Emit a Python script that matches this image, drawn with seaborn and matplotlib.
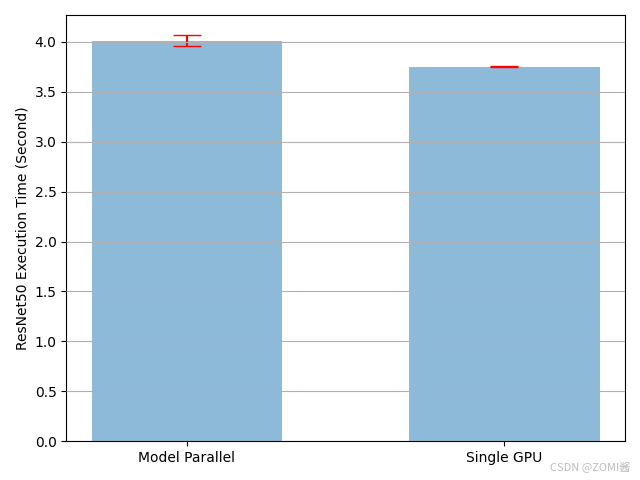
import matplotlib
matplotlib.use("Agg")
import matplotlib.pyplot as plt
import seaborn as sns
import pandas as pd

labels = ["Model Parallel", "Single GPU"]
means = [4.01, 3.75]
stds = [0.055, 0.004]

df = pd.DataFrame({"setup": labels, "time": means})
fig, ax = plt.subplots(figsize=(6.4, 4.8), dpi=100)
sns.barplot(data=df, x="setup", y="time", width=0.6, color="#1f77b4", alpha=0.5,
            saturation=1, errorbar=None, ax=ax)
ax.errorbar(range(len(labels)), means, yerr=stds, fmt="none", ecolor="red", capsize=10)
ax.set_xlim(-0.38, 1.38)
ax.set_xlabel("")
ax.set_ylabel("ResNet50 Execution Time (Second)")
ax.yaxis.grid(True)
ax.set_axisbelow(False)
fig.text(0.985, 0.015, "CSDN @ZOMI酱", ha="right", va="bottom", fontsize=8, color="#bbbbbb",
         family=["Noto Sans CJK SC", "DejaVu Sans"])
plt.tight_layout()
fig.savefig("out.png")
